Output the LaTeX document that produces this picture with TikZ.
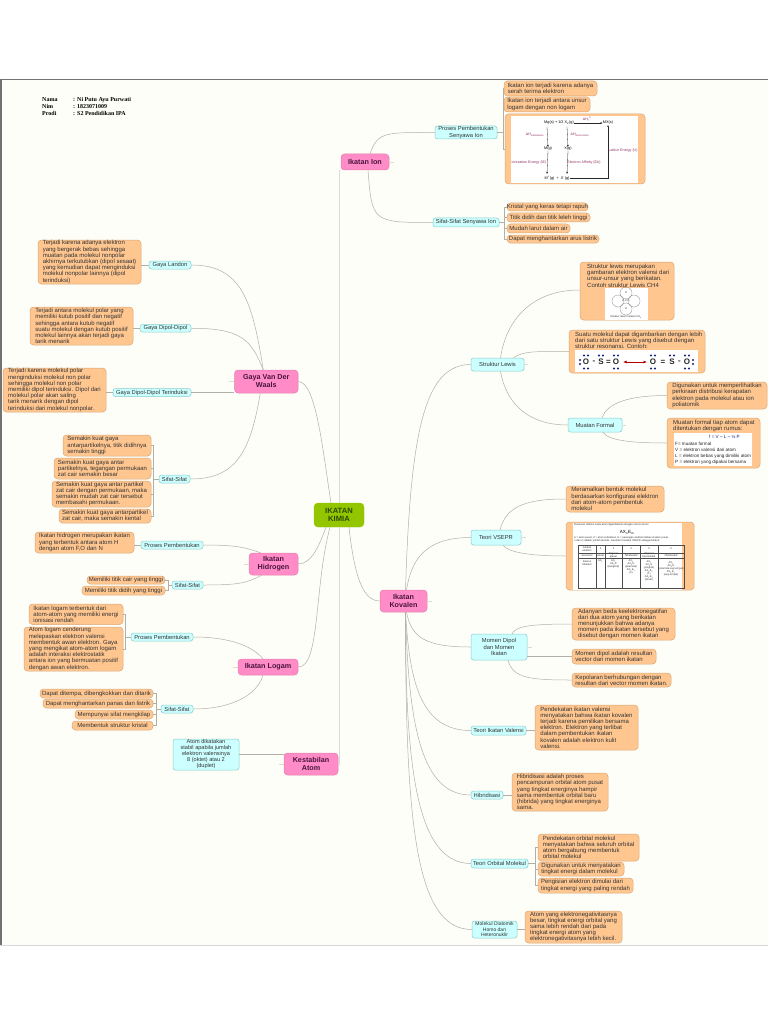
\documentclass[tikz,border=0pt]{standalone}
\usepackage{fontspec}
\setmainfont{Liberation Sans}
\newfontfamily\namefont{Liberation Serif}
\usetikzlibrary{arrows.meta,calc}
\definecolor{panel}{HTML}{FEFEF8}
\definecolor{leaffill}{HTML}{FFC690}
\definecolor{leafedge}{HTML}{D8A878}
\definecolor{subfill}{HTML}{CCFFFF}
\definecolor{subedge}{HTML}{88CCCC}
\definecolor{mainfill}{HTML}{FF8CC6}
\definecolor{mainedge}{HTML}{E080B0}
\definecolor{rootfill}{HTML}{94C600}
\definecolor{maintext}{HTML}{4A1440}
\definecolor{rootext}{HTML}{2A4A00}
\definecolor{linkgray}{HTML}{B0B0A8}
\definecolor{trunk}{HTML}{DADAD6}
\definecolor{chemred}{HTML}{903060}
\definecolor{lewisblue}{HTML}{102080}
\tikzset{
 leaf/.style={draw=leafedge,fill=leaffill,rounded corners=3.5pt,inner sep=0pt,line width=.5pt,align=left,text=black!80,font=\fontsize{6}{6.2}\selectfont},
 sub/.style={draw=subedge,fill=subfill,rounded corners=2.5pt,inner sep=0pt,line width=.5pt,align=center,text=black!80,font=\fontsize{5.8}{6.4}\selectfont},
 subsmall/.style={sub,font=\fontsize{5}{5.5}\selectfont},
 subatom/.style={sub,font=\fontsize{5.6}{6}\selectfont},
 mainb/.style={draw=mainedge,fill=mainfill,rounded corners=3.5pt,inner sep=0pt,line width=.5pt,align=center,text=maintext,font=\fontsize{7.2}{8}\selectfont\bfseries},
 rootb/.style={draw=rootfill,fill=rootfill,rounded corners=4pt,inner sep=0pt,align=center,text=rootext,font=\fontsize{7.6}{8.4}\selectfont\bfseries},
 whitebox/.style={fill=white,draw=none,inner sep=0pt},
 con/.style={draw=linkgray,line width=.5pt},
 stub/.style={draw=trunk,line width=.6pt},
 trunkline/.style={draw=trunk,line width=1pt},
 tiny/.style={inner sep=0pt,font=\fontsize{3.6}{4}\selectfont,text=chemred},
 tinyk/.style={inner sep=0pt,font=\fontsize{3.8}{4.2}\selectfont,text=black},
 micro/.style={inner sep=0pt,align=center,font=\fontsize{2.6}{3}\selectfont,text=black!80},
 arr/.style={draw=black!85,line width=.3pt,-{Latex[length=2pt,width=1.6pt]}},
 lewisdot/.style={fill=lewisblue,draw=none,circle,inner sep=0pt,minimum size=2.2pt},
 lewisatom/.style={inner sep=0pt,font=\fontsize{8}{8}\selectfont\bfseries,text=black!85},
 idline/.style={inner sep=0pt,anchor=west,font=\namefont\bfseries\fontsize{6}{6}\selectfont},
 formula/.style={inner sep=0pt,anchor=west,font=\fontsize{4.6}{5}\selectfont,text=black!85},
}
\newcommand{\bx}[7]{%
 \pgfmathsetmacro{\cxv}{(#3+#5)/2}\pgfmathsetmacro{\cyv}{(#4+#6)/2}%
 \node[#1,minimum width={#5-#3},minimum height={#6-#4}] (#2) at (\cxv,\cyv) {#7};}
\newcommand{\lewisO}[3]{% name, x, side of the extra dots
 \node[lewisatom] (#1) at (#2,362) {O};
 \foreach \dx in {-2,2}{\node[lewisdot] at (#2+\dx,355.5){};\node[lewisdot] at (#2+\dx,368.5){};}
 \ifnum#3=1 \foreach \dy in {-2,2}{\node[lewisdot] at (#2-6,362+\dy){};}\fi
 \ifnum#3=2 \foreach \dy in {-2,2}{\node[lewisdot] at (#2+6,362+\dy){};}\fi}
\begin{document}
\begin{tikzpicture}[x=1pt,y=-1pt]
\useasboundingbox (0,0) rectangle (768,1024);
\fill[panel] (0,79) rectangle (768,945);
\draw[black!55,line width=.8pt] (0,79) -- (768,79);
\draw[black!55,line width=1.6pt] (.8,79) -- (.8,945);
\draw[black!15,line width=.8pt] (0,945) -- (768,945);
% identity
\node[idline] (n1) at (42,100) {Nama};\node[idline] (v1) at (73,100) {: Ni Putu Ayu Purwati};
\node[idline] (n2) at (42,106.5) {Nim};\node[idline] (v2) at (73,106.5) {: 1823071009};
\node[idline] (n3) at (42,113) {Prodi};\node[idline] (v3) at (73,113) {: S2 Pendidikan IPA};
% root and main topics
\bx{rootb}{kimia}{314}{503}{364}{527}{IKATAN\\KIMIA}
\bx{mainb}{ion}{341}{154}{389}{170}{Ikatan Ion}
\bx{mainb}{waals}{234.5}{370}{298}{393}{Gaya Van Der\\Waals}
\bx{mainb}{hidro}{249}{553}{298}{575}{Ikatan\\Hidrogen}
\bx{mainb}{logam}{238}{659}{298}{675}{Ikatan Logam}
\bx{mainb}{kest}{284}{753}{338}{775}{Kestabilan\\Atom}
\bx{mainb}{koval}{380}{590}{427}{612}{Ikatan\\Kovalen}
% Waals branch
\bx{sub}{landon}{149}{261}{191}{269}{Gaya Landon}
\bx{sub}{dipol}{140}{324.5}{191}{332}{Gaya Dipol-Dipol}
\bx{sub}{indu}{113}{388.5}{191}{396.5}{Gaya Dipol-Dipol Terinduksi}
\bx{sub}{sifa}{159}{475}{190}{483}{Sifat-Sifat}
\bx{leaf}{l1}{38}{240}{141}{284}{Terjadi karena adanya elektron\\yang bergerak bebas sehingga\\muatan pada molekul nonpolar\\akhirnya terkutubkan (dipol sesaat)\\yang kemudian dapat menginduksi\\molekul nonpolar lainnya (dipol\\terinduksi)}
\bx{leaf}{l2}{30}{307}{133}{345}{Terjadi antara molekul polar yang\\memiliki kutub positif dan negatif\\sehingga antara kutub negatif\\suatu molekul dengan kutub positif\\molekul lainnya akan terjadi gaya\\tarik menarik}
\bx{leaf}{l3}{3}{368}{106}{412}{Terjadi karena molekul polar\\menginduksi molekul non polar\\sehingga molekul non polar\\memiliki dipol terinduksi. Dipol dari\\molekul polar akan saling\\tarik menarik dengan dipol\\terinduksi dari molekul nonpolar.}
\bx{leaf}{s1}{63}{435}{151}{456}{Semakin kuat gaya\\antarpartikelnya, titik didihnya\\semakin tinggi}
\bx{leaf}{s2}{54}{458}{151}{479}{Semakin kuat gaya antar\\partikelnya, tegangan permukaan\\zat cair semakin besar}
\bx{leaf}{s3}{52}{481}{151}{507}{Semakin kuat gaya antar partikel\\zat cair dengan permukaan, maka\\semakin mudah zat cair tersebut\\membasahi permukaan.}
\bx{leaf}{s4}{59}{509}{151}{523}{Semakin kuat gaya antarpartikel\\zat cair, maka semakin kental}
% Hidrogen branch
\bx{sub}{hp}{141}{541}{203}{549}{Proses Pembentukan}
\bx{sub}{hs}{172}{581}{203}{589}{Sifat-Sifat}
\bx{leaf}{h1}{35}{532}{134}{553}{Ikatan hidrogen merupakan ikatan\\yang terbentuk antara atom H\\dengan atom F,O dan N}
\bx{leaf}{h2}{87}{576}{165}{584}{Memiliki titik cair yang tinggi}
\bx{leaf}{h3}{82}{586}{165}{595}{Memiliki titik didih yang tinggi}
% Logam branch
\bx{sub}{lp}{131}{633}{193}{641}{Proses Pembentukan}
\bx{sub}{ls}{161}{705}{193}{713}{Sifat-Sifat}
\bx{leaf}{g1}{29}{604}{123}{624.5}{Ikatan logam terbentuk dari\\atom-atom yang memiliki energi\\ionisasi rendah}
\bx{leaf}{g2}{24}{627}{123}{671}{Atom logam cenderung\\melepaskan elektron valensi\\membentuk awan elektron. Gaya\\yang mengikat atom-atom logam\\adalah interaksi elektrostatik\\antara ion yang bermuatan positif\\dengan awan elektron.}
\bx{leaf}{g3}{40}{689}{153}{698}{Dapat ditempa, dibengkokkan dan ditarik}
\bx{leaf}{g4}{43}{699}{153}{708}{Dapat menghantarkan panas dan listrik}
\bx{leaf}{g5}{75}{710}{153}{719}{Mempunyai sifat mengkilap}
\bx{leaf}{g6}{72}{721}{153}{730}{Membentuk struktur kristal}
% Kestabilan
\bx{subatom}{atom}{173}{739}{239}{770}{Atom dikatakan\\stabil apabila jumlah\\elektron valensinya\\8 (oktet) atau 2\\(duplet)}
% Ion branch
\bx{sub}{ip}{435}{126}{497}{139}{Proses Pembentukan\\Senyawa Ion}
\bx{sub}{is}{433}{218}{499}{227}{Sifat-Sifat Senyawa Ion}
\bx{leaf}{i1}{504}{81}{597}{96}{Ikatan ion terjadi karena adanya\\serah terima elektron}
\bx{leaf}{i2}{504}{97}{590}{112}{Ikatan ion terjadi antara unsur\\logam dengan non logam}
\bx{leaf}{i3}{505}{114}{645}{184}{}
\bx{whitebox}{i3w}{511}{116}{638}{183}{}
\bx{leaf}{i4}{507}{203}{588}{211}{Kristal yang keras tetapi rapuh}
\bx{leaf}{i5}{507}{213}{590}{222}{Titik didih dan titik leleh tinggi}
\bx{leaf}{i6}{507}{224}{570}{233}{Mudah larut dalam air}
\bx{leaf}{i7}{507}{235}{599}{243}{Dapat menghantarkan arus listrik}
% Born-Haber cycle
\node[tinyk] (bh1) at (559,123) {Mg(s) + 1/2 X\textsubscript{2}(g)};
\node[tinyk] (bh2) at (608,123) {MX(s)};
\node[tinyk] (bh3) at (548,149) {M(g)};
\node[tinyk] (bh4) at (568,149) {X(g)};
\node[tinyk] (bh5) at (557,178) {M\textsuperscript{+}(g) \ + \ X\textsuperscript{-}(g)};
\draw[arr] (bh1.east) -- (bh2.west);
\draw[arr] (547,127) -- (bh3.north);
\draw[arr] (567,127) -- (bh4.north);
\draw[arr] (bh3.south) -- (547,174);
\draw[arr] (bh4.south) -- (567,174);
\draw[arr] (bh5.east) -| (bh2.south);
\node[tiny] (bt1) at (587,119) {ΔH\textsubscript{f}\textsuperscript{0}};
\node[tiny] (bt2) at (535,135) {ΔH\textsubscript{sublimation}};
\node[tiny] (bt3) at (580,135) {ΔH\textsubscript{dissociation}};
\node[tiny] (bt4) at (529,163) {Ionization Energy (IE)};
\node[tiny] (bt5) at (584,163) {Electron Affinity (EA)};
\node[tiny] (bt6) at (623,151) {Lattice Energy (U)};
% Kovalen branch
\bx{sub}{lewis}{471}{358}{524}{371}{Struktur Lewis}
\bx{sub}{muat}{568}{418}{622}{432}{Muatan Formal}
\bx{sub}{vsepr}{471}{530}{521}{545}{Teori VSEPR}
\bx{sub}{momen}{471}{634}{527}{660}{Momen Dipol\\dan Momen\\Ikatan}
\bx{sub}{val}{471}{726}{526}{735}{Teori Ikatan Valensi}
\bx{sub}{hib}{471}{791}{503}{799}{Hibridisasi}
\bx{sub}{orb}{471}{859}{528}{868}{Teori Orbital Molekul}
\bx{subsmall}{dia}{472}{921}{517}{938}{Molekul Diatomik\\Homo dan\\Heteronuklir}
% Lewis leaves
\node[leaf,minimum width=94,minimum height=58] (k1) at (627,291) {};
\node[inner sep=0pt,anchor=north west,align=left,text=black!80,font=\fontsize{6}{6.2}\selectfont] (k1t) at (587,264) {Struktur lewis merupakan\\gambaran elektron valensi dari\\unsur-unsur yang berikatan.\\Contoh struktur Lewis CH4};
\bx{whitebox}{k1w}{605}{288}{648}{320}{}
\foreach \a/\b in {0/-8,0/8,-8/0,8/0}{\draw[black!45,line width=.3pt] (626+\a,301+\b) circle (6);}
\node[micro] (ch4c) at (626,301) {H C H};
\node[micro] (ch4a) at (626,293) {H};
\node[micro] (ch4b) at (626,309) {H};
\node[micro] (ch4d) at (626,317.5) {Struktur lewis molekul CH\textsubscript{4}};
\node[leaf,minimum width=136,minimum height=43] (k2) at (637,351.5) {};
\node[inner sep=0pt,anchor=north west,align=left,text=black!80,font=\fontsize{6}{6.2}\selectfont] (k2t) at (575,332) {Suatu molekul dapat digambarkan dengan lebih\\dari satu struktur Lewis yang disebut dengan\\struktur resonansi. Contoh:};
\bx{whitebox}{k2w}{575}{350}{698}{372}{}
\lewisO{oa}{586}{1}
\node[lewisatom] (sa) at (601,362) {S};
\lewisO{ob}{616}{0}
\foreach \dx in {-2,2}{\node[lewisdot] at (601+\dx,355.5){};}
\node[lewisatom] (ma) at (594,362) {-};
\node[lewisatom] (eb) at (608.5,362) {=};
\draw[draw=red!70!black,line width=.8pt,{Latex[length=3.5pt,width=3pt]}-{Latex[length=3.5pt,width=3pt]}] (623,362) -- (647,362);
\lewisO{oc}{653}{0}
\node[lewisatom] (ec) at (663,362) {=};
\node[lewisatom] (sb) at (672,362) {S};
\foreach \dx in {-2,2}{\node[lewisdot] at (672+\dx,355.5){};}
\node[lewisatom] (md) at (679.5,362) {-};
\lewisO{od}{687}{2}
\bx{leaf}{k3}{667}{382}{767}{409}{Digunakan untuk memperlihatkan\\perkiraan distribusi kerapatan\\elektron pada molekul atau ion\\poliatomik}
\node[leaf,minimum width=93,minimum height=50] (k4) at (713.5,443) {};
\node[inner sep=0pt,anchor=north west,align=left,text=black!80,font=\fontsize{6}{6.2}\selectfont] (k4t) at (673,420) {Muatan formal tiap atom dapat\\ditentukan dengan rumus:};
\bx{whitebox}{k4w}{674}{433}{752}{466}{}
\node[formula,text=lewisblue] (f0) at (709,436.5) {f = V -- L -- \textonehalf\ P};
\node[formula] (f1) at (675,443.5) {F= muatan formal};
\node[formula] (f2) at (675,449.5) {V = elektron valensi dari atom};
\node[formula] (f3) at (675,456) {L = elektron bebas yang dimiliki atom};
\node[formula] (f4) at (675,462) {P = elektron yang dipakai bersama};
% VSEPR leaves
\bx{leaf}{v1}{566}{486}{664}{512}{Meramalkan bentuk molekul\\berdasarkan konfigurasi elektron\\dari atom-atom pembentuk\\molekul}
\bx{leaf}{v2}{566}{522}{694}{590}{}
\bx{whitebox}{v2w}{573}{522.5}{682}{589.5}{}
\node[micro,anchor=west] (vt1) at (574,525) {Rumusan definisi suatu atom digambarkan dengan rumus umum};
\node[inner sep=0pt,font=\fontsize{4.5}{5}\selectfont] (vt2) at (627,532) {AX\textsubscript{n}E\textsubscript{m}};
\node[micro,anchor=west,align=left] (vt3) at (574,539) {A = atom pusat, X = atom substituen, E = pasangan elektron bebas di atom pusat,\\n dan m adalah jumlah atom/E. Geometri molekul VSEPR sebagai berikut:};
\draw[black!70,line width=.4pt] (578,545) rectangle (684,588);
\foreach \cxp in {596,605,622,640,658}{\draw[black!70,line width=.3pt] (\cxp,545) -- (\cxp,588);}
\foreach \ryp in {553,558}{\draw[black!70,line width=.3pt] (578,\ryp) -- (684,\ryp);}
\node[micro] (ta) at (587,549) {Jumlah\\elektron};
\node[micro] (tb) at (600.5,549) {2};
\node[micro] (tc) at (613.5,549) {3};
\node[micro] (td) at (631,549) {4};
\node[micro] (te) at (649,549) {5};
\node[micro] (tf) at (671,549) {6};
\node[micro] (ua) at (587,555.5) {Geometri};
\node[micro] (ub) at (600.5,555.5) {Linear};
\node[micro] (uc) at (613.5,555.5) {Trigonal\\planar};
\node[micro] (ud) at (631,555.5) {Tetrahedral};
\node[micro] (ue) at (649,555.5) {Trigonal\\bipiramidal};
\node[micro] (uf) at (671,555.5) {Oktahedral};
\node[micro] (wa) at (587,563) {Rumus\\Molekul};
\node[micro] (wb) at (600.5,561) {AX\textsubscript{2}};
\node[micro] (wc) at (613.5,564) {AX\textsubscript{3}\\AX\textsubscript{2}E\\(bengkok)};
\node[micro] (wd) at (631,567) {AX\textsubscript{4}\\AX\textsubscript{3}E\\(piramida)\\AX\textsubscript{2}E\textsubscript{2}\\(V)};
\node[micro] (we) at (649,571) {AX\textsubscript{5}\\AX\textsubscript{4}E\\(jungkat)\\AX\textsubscript{3}E\textsubscript{2}\\(T)\\AX\textsubscript{2}E\textsubscript{3}\\(linear)};
\node[micro] (wf) at (671,569) {AX\textsubscript{6}\\AX\textsubscript{5}E\\(piramida segi empat)\\AX\textsubscript{4}E\textsubscript{2}\\(segi empat)};
% Momen leaves
\bx{leaf}{m1}{572}{608}{675}{640}{Adanyan beda keelektronegatifan\\dari dua atom yang berikatan\\menunjukkan bahwa adanya\\momen pada ikatan tersebut yang\\disebut dengan momen ikatan}
\bx{leaf}{m2}{572}{649}{656}{664}{Momen dipol adalah resultan\\vector dari momen ikatan}
\bx{leaf}{m3}{572}{673}{671}{687}{Kepolaran berhubungan dengan\\resultan dari vector momen ikatan.}
\bx{leaf}{va}{535}{705}{638}{750}{Pendekatan ikatan valensi\\menyatakan bahwa ikatan kovalen\\terjadi karena pemilikan bersama\\elektron. Elektron yang terlibat\\dalam pembentukan ikatan\\kovalen adalah elektron kulit\\valensi.}
\bx{leaf}{hb}{512}{773}{608}{811}{Hibridisasi adalah proses\\pencampuran orbital atom pusat\\yang tingkat energinya hampir\\sama membentuk orbital baru\\(hibrida) yang tingkat energinya\\sama.}
\bx{leaf}{o1}{538}{834}{639}{861}{Pendekatan orbital molekul\\menyatakan bahwa seluruh orbital\\atom bergabung membentuk\\orbital molekul}
\bx{leaf}{o2}{538}{862}{624}{876}{Digunakan untuk menyatakan\\tingkat energi dalam molekul}
\bx{leaf}{o3}{538}{878}{633}{893}{Pengisian elektron dimulai dari\\tingkat energi yang paling rendah}
\bx{leaf}{d1}{525}{911}{622}{943}{Atom yang elektronegativitasnya\\besar, tingkat energi orbital yang\\sama lebih rendah dari pada\\tingkat energi atom yang\\elektronegativitasnya lebih kecil.}
% trunk lines
\draw[trunkline] (kimia.north) -- (kimia.north |- ion.south);
\draw[trunkline] (kimia.south) -- (kimia.south |- kest.east) -- (kest.east);
% small stubs
\draw[stub] (ion.east) -- ++(5,0);
\draw[stub] (waals.west) -- ++(-5,0);
\draw[stub] (hidro.west) -- ++(-5,0);
\draw[stub] (logam.west) -- ++(-5,0);
\draw[stub] (kest.west) -- ++(-5,0);
\draw[stub] (koval.east) -- ++(5,0);
\draw[stub] (lewis.east) -- ++(4,0);
\draw[stub] (vsepr.east) -- ++(5,0);
\draw[stub] (momen.east) -- ++(5,0);
\draw[stub] (muat.east) -- ++(4,0);
% main connectors
\draw[con] (waals.east) .. controls +(18,0) and +(-8,-50) .. ([xshift=-8pt]kimia.north);
\draw[con] (hidro.east) .. controls +(14,0) and +(-6,16) .. ([xshift=-13pt]kimia.south);
\draw[con] (logam.east) .. controls +(22,0) and +(-16,60) .. ([xshift=-9pt]kimia.south);
\draw[con] ([xshift=10pt]kimia.south) .. controls +(5,45) and +(-18,0) .. (koval.west);
% ion children
\draw[con] ([xshift=5pt]ion.north) .. controls +(8,-22) and +(-50,0) .. (ip.west);
\draw[con] ([xshift=3pt]ion.south) .. controls +(4,52) and +(-60,0) .. (is.west);
\foreach \t in {i1,i2,i3}{\draw[con] (ip.east) -- ++(6,0) |- (\t.west);}
\foreach \t in {i4,i5,i6,i7}{\draw[con] (is.east) -- ++(5,0) |- (\t.west);}
% waals children
\draw[con] ([xshift=-3pt]waals.north) .. controls +(-11,-70) and +(50,0) .. (landon.east);
\draw[con] ([xshift=-3pt]waals.north) .. controls +(-12,-30) and +(50,0) .. (dipol.east);
\draw[con] (indu.east) -- (waals.west |- indu.east);
\draw[con] ([xshift=-6pt]waals.south) .. controls +(-10,60) and +(45,0) .. (sifa.east);
\draw[con] (landon.west) -- (l1.east |- landon.west);
\draw[con] (dipol.west) -- (l2.east |- dipol.west);
\draw[con] (indu.west) -- (l3.east |- indu.west);
\foreach \t in {s1,s2,s3,s4}{\draw[con] (sifa.west) -- ++(-6,0) |- (\t.east);}
% hidrogen children
\draw[con] ([xshift=-13pt]hidro.north) .. controls +(-15,-5) and +(35,0) .. (hp.east);
\draw[con] ([xshift=-12pt]hidro.south) .. controls +(-15,8) and +(35,0) .. (hs.east);
\draw[con] (hp.west) -- (h1.east |- hp.west);
\draw[con] (hs.west) -- ++(-4,0) |- (h2.east);
\draw[con] (hs.west) -- ++(-4,0) |- (h3.east);
% logam children
\draw[con] ([xshift=-5pt]logam.north) .. controls +(-10,-12) and +(38,0) .. (lp.east);
\draw[con] ([xshift=-5pt]logam.south) .. controls +(-6,20) and +(38,0) .. (ls.east);
\foreach \t in {g1,g2}{\draw[con] (lp.west) -- ++(-6,0) |- (\t.east);}
\foreach \t in {g3,g4,g5,g6}{\draw[con] (ls.west) -- ++(-5,0) |- (\t.east);}
\draw[con] (atom.east) -- (atom.east -| kest.west);
% kovalen children
\draw[con] ([xshift=2pt]koval.north) .. controls +(5,-160) and +(-46,0) .. (lewis.west);
\draw[con] ([xshift=3pt]koval.north) .. controls +(5,-30) and +(-46,0) .. (vsepr.west);
\draw[con] ([xshift=3pt]koval.south) .. controls +(5,25) and +(-46,0) .. (momen.west);
\draw[con] ([xshift=2pt]koval.south) .. controls +(4,68) and +(-51,0) .. (val.west);
\draw[con] ([xshift=2pt]koval.south) .. controls +(3,108) and +(-51,0) .. (hib.west);
\draw[con] ([xshift=2pt]koval.south) .. controls +(0,148) and +(-56,0) .. (orb.west);
\draw[con] ([xshift=2pt]koval.south) .. controls +(0,208) and +(-57,0) .. (dia.west);
% lewis etc children
\draw[con] ([xshift=3pt]lewis.north) .. controls +(6,-40) and +(-46,0) .. (k1.west |- 0,290);
\draw[con] ([xshift=16pt]lewis.north) .. controls +(10,-7) and +(-32,0) .. (k2.west);
\draw[con] ([xshift=3pt]lewis.south) .. controls +(6,34) and +(-38,0) .. (muat.west);
\draw[con] ([xshift=7pt]muat.north) .. controls +(5,-14) and +(-40,0) .. (k3.west);
\draw[con] ([xshift=8pt]muat.south) .. controls +(5,8) and +(-37,0) .. (k4.west);
\draw[con] ([xshift=4pt]vsepr.north) .. controls +(6,-22) and +(-43,0) .. (v1.west);
\draw[con] ([xshift=7pt]vsepr.south) .. controls +(6,8) and +(-31,0) .. (v2.west);
\draw[con] ([xshift=13pt]momen.north) .. controls +(4,-7) and +(-45,0) .. (m1.west);
\draw[con] (momen.east |- m2.west) -- (m2.west);
\draw[con] ([xshift=9pt]momen.south) .. controls +(5,18) and +(-42,0) .. (m3.west);
\draw[con] (val.east) -- (va.west |- val.east);
\draw[con] (hib.east) -- (hb.west |- hib.east);
\foreach \t in {o1,o2,o3}{\draw[con] (orb.east) -- ++(7,0) |- (\t.west);}
\draw[con] (dia.east) -- (d1.west |- dia.east);
\end{tikzpicture}
\end{document}
